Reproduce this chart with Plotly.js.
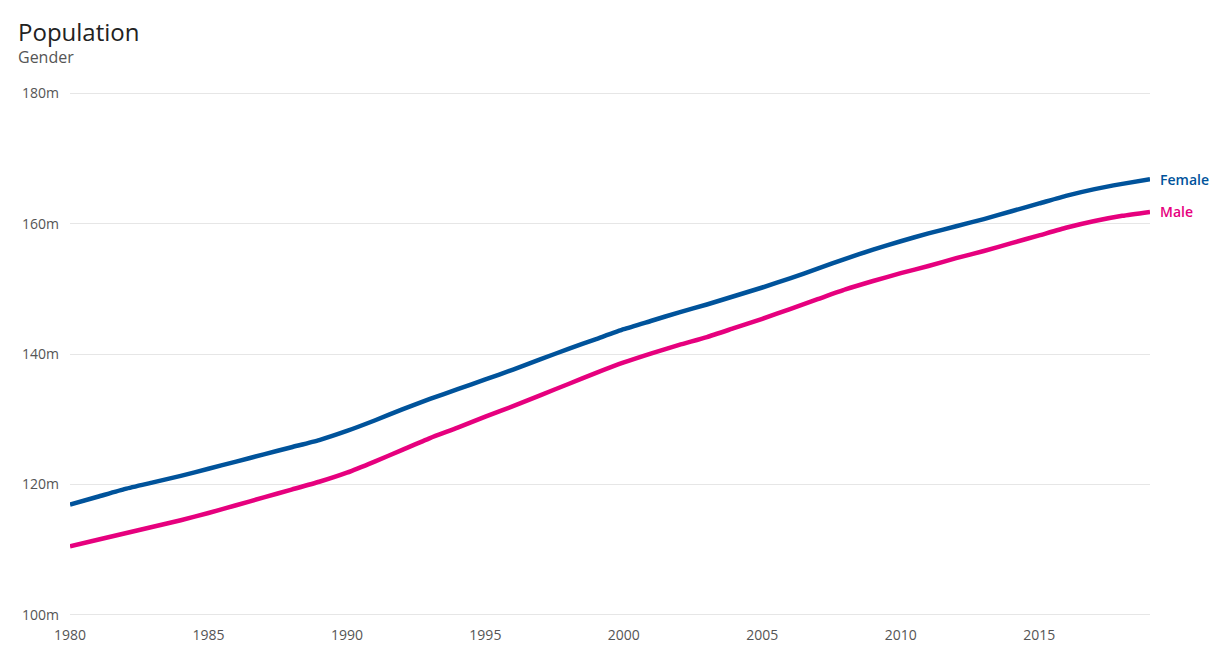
<!DOCTYPE html>
<html>
<head>
<meta charset="utf-8">
<script src="https://cdn.plot.ly/plotly-3.0.1.min.js"></script>
<style>html,body{margin:0;padding:0;background:#fff;}#chart{width:1228px;height:670px;}</style>
</head>
<body>
<div id="chart"></div>
<script>
const years = [1980,1981,1982,1983,1984,1985,1986,1987,1988,1989,1990,1991,1992,1993,1994,1995,1996,1997,1998,1999,2000,2001,2002,2003,2004,2005,2006,2007,2008,2009,2010,2011,2012,2013,2014,2015,2016,2017,2018,2019];
const female = [116.9,118.1,119.3,120.3,121.3,122.4,123.5,124.6,125.7,126.8,128.2,129.8,131.5,133.1,134.6,136.1,137.6,139.2,140.8,142.3,143.8,145.1,146.4,147.6,148.9,150.2,151.6,153.1,154.6,156.0,157.3,158.5,159.6,160.7,161.9,163.1,164.3,165.3,166.1,166.8];
const male = [110.5,111.5,112.5,113.5,114.5,115.6,116.8,118.0,119.2,120.4,121.8,123.5,125.3,127.1,128.7,130.4,132.0,133.7,135.4,137.1,138.7,140.1,141.4,142.6,144.0,145.4,146.9,148.4,149.9,151.2,152.4,153.5,154.7,155.8,157.0,158.2,159.4,160.4,161.2,161.8];
const seriesNames = ["Female","Male"];
const seriesColors = ["#00539b","#e6007e"];
const xTicks = [1980,1985,1990,1995,2000,2005,2010,2015];
const yTicks = [100,120,140,160,180];
const yTickText = yTicks.map(v => v + 'm');

const font = '"Open Sans", "Noto Sans", sans-serif';
const data = [female, male].map((vals, i) => ({
  x: years, y: vals, type: 'scatter', mode: 'lines', name: seriesNames[i],
  line: {color: seriesColors[i], width: 4.5, shape: 'spline', smoothing: 0.5},
  hoverinfo: 'x+y'
}));

const endAnn = [female, male].map((vals, i) => ({
  x: years[years.length-1], y: vals[vals.length-1], xref: 'x', yref: 'y',
  text: seriesNames[i], showarrow: false, xanchor: 'left', xshift: 8,
  font: {family: font, size: 14, color: seriesColors[i], weight: 600}
}));

const layout = {
  width: 1228, height: 670,
  margin: {l: 70, r: 78, t: 90, b: 52},
  paper_bgcolor: '#fff', plot_bgcolor: '#fff',
  showlegend: false,
  font: {family: font, color: '#555'},
  xaxis: {
    range: [1980, 2019], tickmode: 'array', tickvals: xTicks, showgrid: false, zeroline: false,
    showline: false, ticks: '', tickfont: {size: 14, color: '#555'}, ticklabelstandoff: 7, fixedrange: true
  },
  yaxis: {
    range: [99.5, 180.5], tickmode: 'array', tickvals: yTicks, ticktext: yTickText, showgrid: true,
    gridcolor: '#e6e6e6', gridwidth: 1, zeroline: false, showline: false, ticks: '',
    tickfont: {size: 14, color: '#555'}, ticklabelstandoff: 10, fixedrange: true
  },
  annotations: [
    {text: 'Population', xref: 'paper', yref: 'paper', x: -0.05, y: 1.1117,
     xanchor: 'left', yanchor: 'middle', showarrow: false,
     font: {family: font, size: 24, color: '#222'}},
    {text: 'Gender', xref: 'paper', yref: 'paper', x: -0.05, y: 1.0634,
     xanchor: 'left', yanchor: 'middle', showarrow: false,
     font: {family: font, size: 16, color: '#555'}}
  ].concat(endAnn)
};

Plotly.newPlot('chart', data, layout, {displayModeBar: false, staticPlot: true});
</script>
</body>
</html>
